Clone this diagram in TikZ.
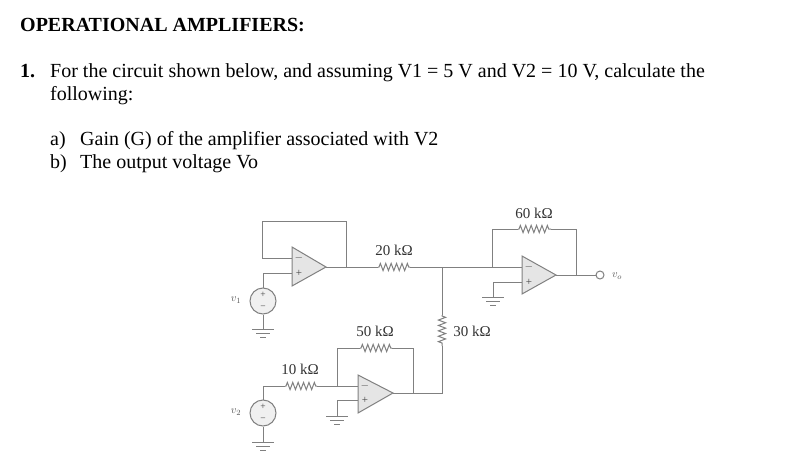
\documentclass[tikz,border=0pt]{standalone}
\usepackage{fontspec}
\setmainfont{Liberation Serif}
\usetikzlibrary{decorations.pathmorphing,calc}
\tikzset{
  wire/.style={draw=wirecol,line width=1pt},
  res/.style={wire,decorate,decoration={zigzag,segment length=5.4pt,amplitude=3.6pt,pre length=1pt,post length=1pt}},
  opamp/.style={draw=wirecol,fill=black!10,line width=1pt,line join=miter},
  src/.style={circle,draw=wirecol,fill=black!6,line width=1pt,minimum size=26pt,inner sep=0pt},
  txt/.style={anchor=base west,inner sep=0pt,font=\fontsize{20}{20}\selectfont,text=black},
  lab/.style={inner sep=0pt,font=\fontsize{15}{15}\selectfont,text=black!80},
  vlab/.style={inner sep=0pt,font=\fontsize{11}{11}\selectfont\itshape,text=black!65},
  pin/.style={inner sep=0pt,font=\fontsize{11}{11}\selectfont,text=black!75},
  srcpin/.style={inner sep=0pt,font=\fontsize{9.5}{9.5}\selectfont,text=black!75},
  term/.style={circle,draw=wirecol,fill=white,line width=1pt,minimum size=8pt,inner sep=0pt}
}
\definecolor{wirecol}{gray}{0.5}
\newcommand{\gnd}[1]{%
  \draw[wire] ($(#1)+(-11,0)$) -- ($(#1)+(11,0)$);
  \draw[wire] ($(#1)+(-7,4)$) -- ($(#1)+(7,4)$);
  \draw[wire] ($(#1)+(-3,8)$) -- ($(#1)+(3,8)$);}
\begin{document}
\begin{tikzpicture}[x=1pt,y=-1pt]
\useasboundingbox (0,0) rectangle (801,458);
\fill[white] (0,0) rectangle (801,458);
% text
\node[txt] (title) at (20,31) {\textbf{OPERATIONAL AMPLIFIERS:}};
\node[txt] (num) at (20,77) {\textbf{1.}};
\node[txt] (l1) at (50,77) {For the circuit shown below, and assuming V1 = 5 V and V2 = 10 V, calculate the};
\node[txt] (l2) at (50,100) {following:};
\node[txt] (a) at (50,145) {a)};
\node[txt] (a2) at (80,145) {Gain (G) of the amplifier associated with V2};
\node[txt] (b) at (50,168) {b)};
\node[txt] (b2) at (80,168) {The output voltage Vo};
% coordinates
\coordinate (A1m) at (292,258); \coordinate (A1p) at (292,273); \coordinate (A1o) at (326,267);
\coordinate (A2m) at (358,386); \coordinate (A2p) at (358,400); \coordinate (A2o) at (393,393);
\coordinate (A3m) at (522,267); \coordinate (A3p) at (522,282); \coordinate (A3o) at (556,275);
\node[src] (V1) at (263,301) {};
\node[src] (V2) at (263,413) {};
\node[term] (Vo) at (600,275) {};
\coordinate (G1) at (263,329); \coordinate (G2) at (263,442);
\coordinate (G3) at (337,416); \coordinate (G4) at (493,297);
\coordinate (R20a) at (378,267); \coordinate (R20b) at (410,267);
\coordinate (R60a) at (518,229); \coordinate (R60b) at (551,229);
\coordinate (R50a) at (360,348); \coordinate (R50b) at (392,348);
\coordinate (R10a) at (285,386); \coordinate (R10b) at (317,386);
\coordinate (R30a) at (442,315); \coordinate (R30b) at (442,346);
% op-amps
\draw[opamp] (292,247) -- (326,267) -- (292,286) -- cycle;
\draw[opamp] (358,375) -- (393,393) -- (358,413) -- cycle;
\draw[opamp] (522,256) -- (556,275) -- (522,294) -- cycle;
% pins
\node[pin] at (299,258) {$-$}; \node[pin] at (299,273) {+};
\node[pin] at (365,386) {$-$}; \node[pin] at (365,400) {+};
\node[pin] at (529,267) {$-$}; \node[pin] at (529,282) {+};
\node[srcpin] at ($(V1)+(0,-6.5)$) {+}; \node[srcpin] at ($(V1)+(0,6.5)$) {−};
\node[srcpin] at ($(V2)+(0,-6.5)$) {+}; \node[srcpin] at ($(V2)+(0,6.5)$) {−};
% wiring
\draw[wire] (A1m) -- (262,258) -- (262,221) -- (346,221) -- (346,267);
\draw[wire] (A1p) -- (263,273) -- (V1.north);
\draw[wire] (V1.south) -- (G1);
\draw[wire] (A1o) -- (R20a);
\draw[res] (R20a) -- (R20b);
\draw[wire] (R20b) -- (A3m);
\draw[wire] (492,267) -- (492,229) -- (R60a);
\draw[res] (R60a) -- (R60b);
\draw[wire] (R60b) -- (576,229) -- (576,275);
\draw[wire] (A3o) -- (Vo.west);
\draw[wire] (A3p) -- (493,282) -- (G4);
\draw[wire] (442,267) -- (R30a);
\draw[res] (R30a) -- (R30b);
\draw[wire] (R30b) -- (442,393) -- (A2o);
\draw[wire] (V2.north) -- (263,386) -- (R10a);
\draw[res] (R10a) -- (R10b);
\draw[wire] (R10b) -- (A2m);
\draw[wire] (337,386) -- (337,348) -- (R50a);
\draw[res] (R50a) -- (R50b);
\draw[wire] (R50b) -- (413,348) -- (413,393);
\draw[wire] (A2p) -- (337,400) -- (G3);
\draw[wire] (V2.south) -- (G2);
\gnd{G1}\gnd{G2}\gnd{G3}\gnd{G4}
% labels
\node[lab] (L20) at (394,250) {20 kΩ};
\node[lab] (L60) at (534,213) {60 kΩ};
\node[lab] (L50) at (375,331) {50 kΩ};
\node[lab] (L10) at (300,369) {10 kΩ};
\node[lab] (L30) at (472,331) {30 kΩ};
\node[vlab] (Lv1) at (236,300) {$v_1$};
\node[vlab] (Lv2) at (236,412) {$v_2$};
\node[vlab] (Lvo) at (617,276) {$v_o$};
\end{tikzpicture}
\end{document}
